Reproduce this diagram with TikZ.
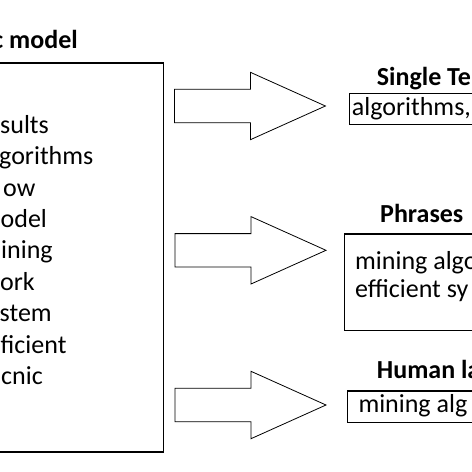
\documentclass[tikz,border=0pt]{standalone}
\usepackage{fontspec}
\setmainfont{Carlito}
\usetikzlibrary{positioning}
\tikzset{
    item/.style = {
        anchor=base west,
        inner sep=0pt,
        font=\fontsize{26}{31.4}\selectfont
    },
    heading/.style = {
        anchor=base west,
        inner sep=0pt,
        font=\fontsize{26}{31.4}\selectfont\bfseries
    },
    frame/.style = {
        draw,
        line width=1.1pt
    },
    fatarrow/.pic = {
        \draw[line width=0.8pt, line join=miter]
            (0,-16.7) -- (76,-16.7) -- (76,-33.7) -- (151,0)
            -- (76,33.7) -- (76,16.7) -- (0,16.7) -- cycle;
    },
}

\begin{document}
\begin{tikzpicture}[x=1pt, y=-1pt]
        \useasboundingbox (0,0) rectangle (472,472);

        % topic model box
        \node[heading, anchor=base east] (title) at (78,48.3) {c model};
        \draw[frame] (-2,63) -- (163.3,63) -- (163.3,452) -- (-2,452);

        \node[item] (w1) at (0,133.3) {sults};
        \node[item] (w2) at (-1,164.7) {gorithms};
        \node[item] (w3) at (3,196.1) {ow};
        \node[item] (w4) at (0.5,227.5) {odel};
        \node[item] (w5) at (1,258.9) {ining};
        \node[item] (w6) at (0,290.3) {ork};
        \node[item] (w7) at (-0.5,321.7) {stem};
        \node[item] (w8) at (0.5,353.1) {ficient};
        \node[item] (w9) at (1,384.5) {cnic};

        % block arrows
        \pic at (174.4,106) {fatarrow};
        \pic at (175,250.3) {fatarrow};
        \pic at (175,405) {fatarrow};

        % single terms
        \node[heading] (single) at (376.7,85) {Single Te};
        \draw[frame] (474,93.3) -- (349.3,93.3) -- (349.3,124.3) -- (474,124.3);
        \node[item] (singletxt) at (351.7,115) {algorithms,};

        % phrases
        \node[heading] (phrases) at (380,222) {Phrases};
        \draw[frame] (474,234) -- (344.3,234) -- (344.3,330.3) -- (474,330.3);
        \node[item] (phrase1) at (355,269.3) {mining algo};
        \node[item] (phrase2) at (355,297.7) {efficient sy};

        % human labels
        \node[heading] (human) at (376.7,378.7) {Human la};
        \draw[frame] (474,391) -- (347.5,391) -- (347.5,422.7) -- (474,422.7);
        \node[item] (humantxt) at (358.3,412.7) {mining alg};
\end{tikzpicture}
\end{document}
